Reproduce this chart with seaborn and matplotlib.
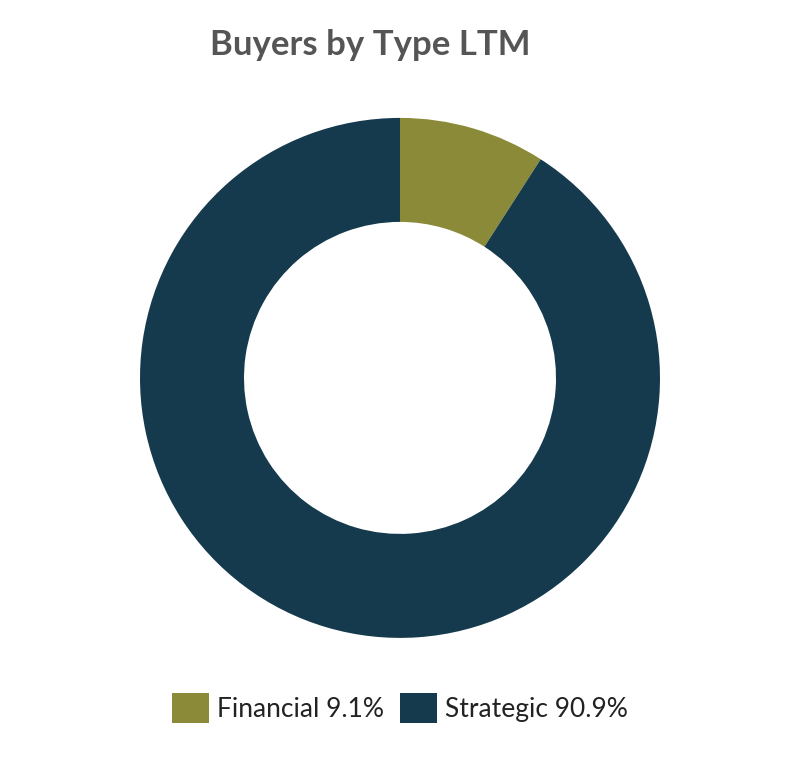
import matplotlib
matplotlib.use("Agg")
import matplotlib.pyplot as plt
import seaborn as sns
from matplotlib.patches import Patch

# chart data
labels = ["Financial", "Strategic"]
shares = [9.1, 90.9]
colors = ["#8b8a38", "#153a4d"]

sns.set_theme(style="white")
plt.rcParams["font.family"] = ["Lato", "DejaVu Sans"]

fig = plt.figure(figsize=(8, 7.8), dpi=100)
ax = fig.add_axes([0.175, 0.182, 0.65, 0.667])

ax.pie(shares, colors=sns.color_palette(colors), startangle=90, counterclock=False,
       radius=1, wedgeprops=dict(width=0.4, edgecolor="none"))
ax.set_xlim(-1, 1)
ax.set_ylim(-1, 1)
ax.set_aspect("equal")

fig.text(0.4625, 0.942, "Buyers by Type LTM", ha="center", va="center",
         fontsize=25, fontweight="bold", color="#555555")

handles = [Patch(facecolor=c, edgecolor="none") for c in colors]
leg_labels = [f"{l} {s}%" for l, s in zip(labels, shares)]
fig.legend(handles, leg_labels, loc="center", bbox_to_anchor=(0.5, 0.092), ncol=2,
           frameon=False, fontsize=19, handlelength=1.4, handleheight=1.4,
           handletextpad=0.3, columnspacing=0.6, labelcolor="#222222")

fig.savefig("out.png", dpi=100)
